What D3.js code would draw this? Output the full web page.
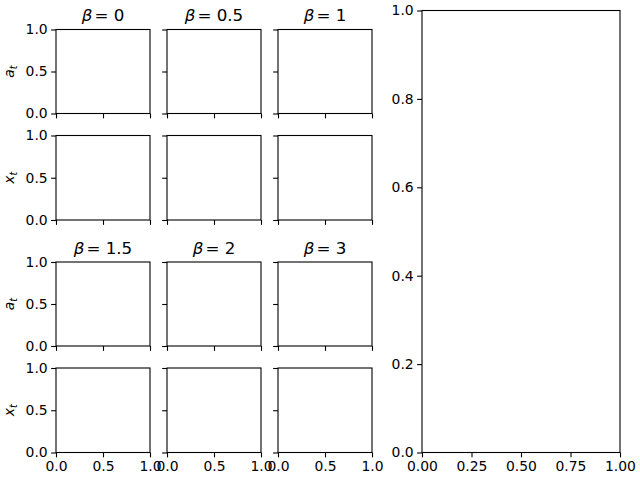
<!DOCTYPE html>
<html>
<head>
<meta charset="utf-8">
<script src="https://cdn.jsdelivr.net/npm/d3@7"></script>
<style>
  body { margin: 0; background: #fff; }
  svg { display: block; font-family: "DejaVu Sans", sans-serif; }
</style>
</head>
<body>
<div id="chart"></div>
<script>
// figure data
const betas = ["0", "0.5", "1", "1.5", "2", "3"];
const rowVars = ["a", "x"];
const smallTicks = [0, 0.5, 1];
const bigYTicks = [0, 0.2, 0.4, 0.6, 0.8, 1.0];
const bigXTicks = [0, 0.25, 0.5, 0.75, 1.0];

const W = 640, H = 480;
const colX = [[56, 150], [167, 261], [278, 372]];
const rowY = [[29.5, 113.5], [135.5, 220], [262, 346], [368, 452.5]];
const big = { x0: 422, x1: 620, y0: 10.5, y1: 452.5 };

const tickLen = 4.86, tickPad = 3.5, fontSize = 13.9;

const svg = d3.select("#chart").append("svg")
    .attr("width", W)
    .attr("height", H);

svg.append("rect").attr("width", W).attr("height", H).attr("fill", "#fff");

function drawAxes(x0, x1, y0, y1, opts) {
    const xs = d3.scaleLinear().domain([0, 1]).range([x0, x1]);
    const ys = d3.scaleLinear().domain([0, 1]).range([y1, y0]);
    const g = svg.append("g");

    const xa = d3.axisBottom(xs).tickValues(opts.xTicks)
        .tickSize(tickLen).tickPadding(tickPad)
        .tickFormat(opts.xLabels ? opts.xFmt : "");
    const ya = d3.axisLeft(ys).tickValues(opts.yTicks)
        .tickSize(tickLen).tickPadding(tickPad)
        .tickFormat(opts.yLabels ? opts.yFmt : "");

    const gx = g.append("g").attr("transform", `translate(0,${y1})`).call(xa);
    const gy = g.append("g").attr("transform", `translate(${x0},0)`).call(ya);
    [gx, gy].forEach(a => {
        a.select(".domain").remove();
        a.selectAll("line").attr("stroke", "#000").attr("stroke-width", 1.1);
        a.selectAll("text").attr("fill", "#000")
            .attr("font-size", fontSize)
            .attr("font-family", "DejaVu Sans");
    });

    g.append("rect")
        .attr("x", x0).attr("y", y0)
        .attr("width", x1 - x0).attr("height", y1 - y0)
        .attr("fill", "none")
        .attr("stroke", "#000")
        .attr("stroke-width", 1.1);
    return g;
}

const f1 = d3.format(".1f");
const f2 = d3.format(".2f");

rowY.forEach((ry, r) => {
    const block = Math.floor(r / 2);
    const varName = rowVars[r % 2];
    colX.forEach((cx, c) => {
        drawAxes(cx[0], cx[1], ry[0], ry[1], {
            xTicks: smallTicks, yTicks: smallTicks,
            xLabels: r === 3, yLabels: c === 0,
            xFmt: f1, yFmt: f1
        });
        if (r % 2 === 0) {
            const t = svg.append("text")
                .attr("x", (cx[0] + cx[1]) / 2)
                .attr("y", ry[0] - 8.3)
                .attr("text-anchor", "middle")
                .attr("font-size", 16.7)
                .attr("font-family", "DejaVu Sans");
            t.append("tspan").attr("font-style", "italic").text("β");
            t.append("tspan").attr("dx", 2).text("= " + betas[block * 3 + c]);
        }
    });
    // y label
    const yl = svg.append("text")
        .attr("transform", `translate(14,${(ry[0] + ry[1]) / 2}) rotate(-90)`)
        .attr("text-anchor", "middle")
        .attr("font-size", fontSize)
        .attr("font-family", "DejaVu Sans");
    yl.append("tspan").attr("font-style", "italic").text(varName);
    yl.append("tspan").attr("font-style", "italic").attr("font-size", fontSize * 0.7)
        .attr("dy", 3).text("t");
});

drawAxes(big.x0, big.x1, big.y0, big.y1, {
    xTicks: bigXTicks, yTicks: bigYTicks,
    xLabels: true, yLabels: true,
    xFmt: f2, yFmt: f1
});
</script>
</body>
</html>
